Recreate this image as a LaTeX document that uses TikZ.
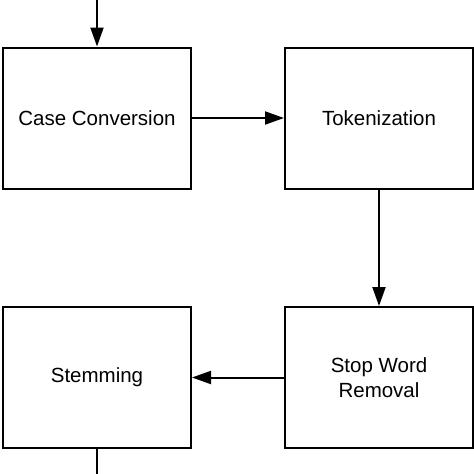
\documentclass[tikz,border=0pt]{standalone}
\usepackage{fontspec}
\setmainfont{Liberation Sans}
\usetikzlibrary{arrows.meta}
\begin{document}
\begin{tikzpicture}
[x=1pt,y=-1pt,
  boxdecorate/.style={shape=rectangle,draw,line width=2pt,minimum width=188pt,minimum height=141pt,align=center,font=\fontsize{20.5pt}{25pt}\selectfont},%
  arrowdecorate/.style={-{Triangle[length=19pt,width=13pt]},line width=2pt}]
\useasboundingbox (0,0) rectangle (474,474);
% boxes
\node (case) at (97,118) [boxdecorate] {Case Conversion};
\node (token) at (379,118) [boxdecorate] {Tokenization};
\node (stop) at (379,377.5) [boxdecorate] {Stop Word\\Removal};
\node (stem) at (97,377.5) [boxdecorate] {Stemming};
% free ends
\coordinate (in) at (97,0);
\coordinate (out) at (97,474);
% edges or lines
\path
(in) edge[arrowdecorate] (case)
(case) edge[arrowdecorate] (token)
(token) edge[arrowdecorate] (stop)
(stop) edge[arrowdecorate] (stem)
(stem) edge[line width=2pt] (out);
\end{tikzpicture}
\end{document}
